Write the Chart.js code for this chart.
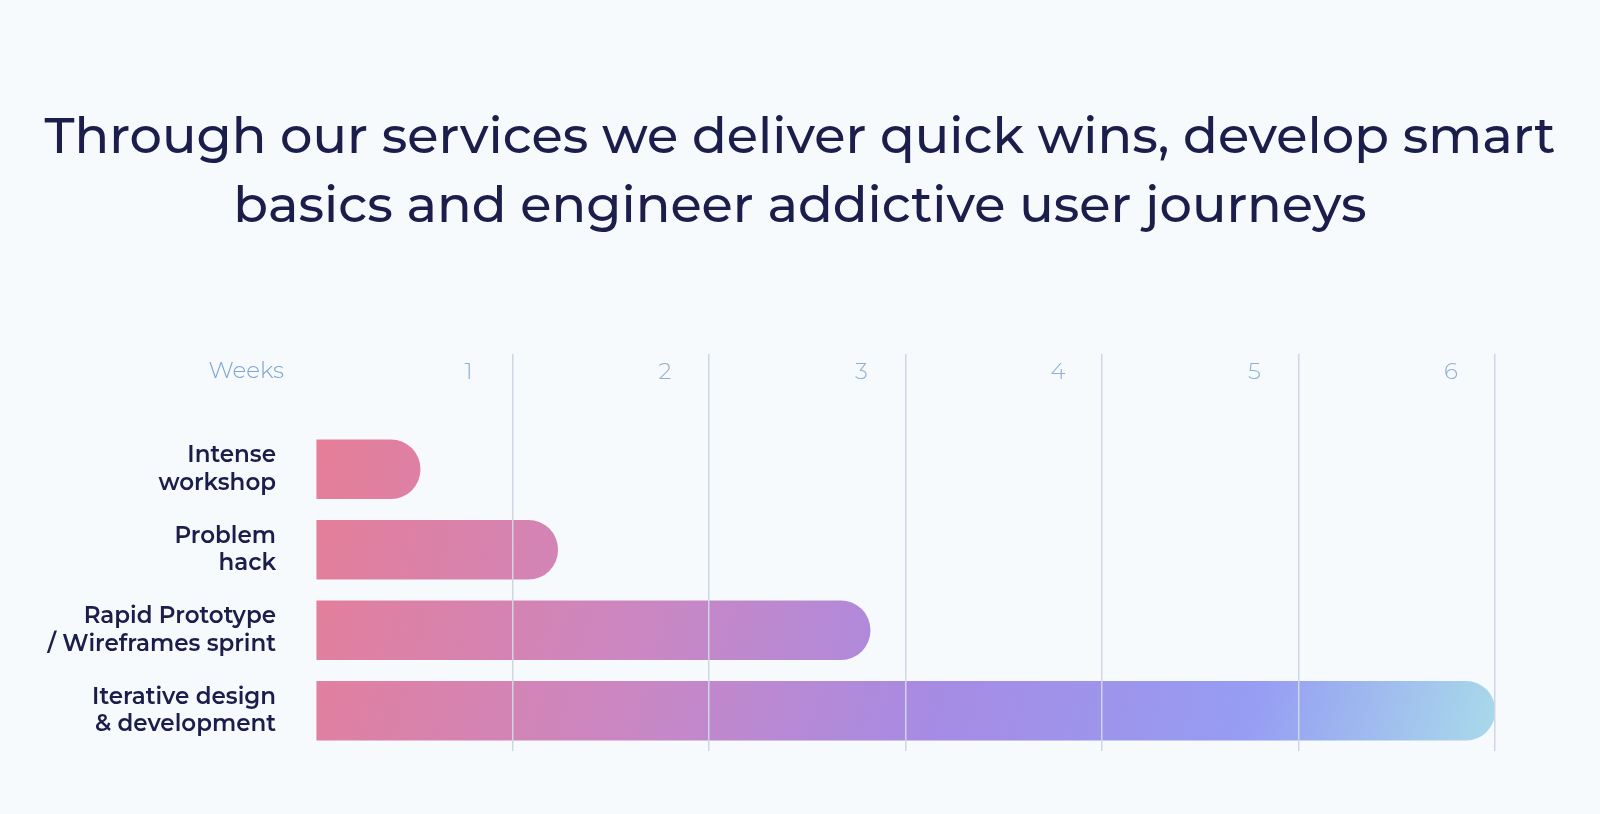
<!DOCTYPE html>
<html>
<head>
<meta charset="utf-8">
<script src="https://cdn.jsdelivr.net/npm/chart.js@4"></script>
<style>
  html, body { margin: 0; padding: 0; background: #f7fafc; }
  #wrap { width: 1600px; height: 814px; }
</style>
</head>
<body>
<div id="wrap"><canvas id="chart"></canvas></div>
<script>
const title = [
  "Through our services we deliver quick wins, develop smart",
  "basics and engineer addictive user journeys"
];
const tasks = [
  ["Intense", "workshop"],
  ["Problem", "hack"],
  ["Rapid Prototype", "/ Wireframes sprint"],
  ["Iterative design", "& development"]
];
const weeks = [0.53, 1.23, 2.82, 6.0];
const axisLabel = "Weeks";

const ctx = document.getElementById("chart").getContext("2d");

const barGradient = (context) => {
  const area = context.chart.chartArea;
  if (!area) return "#e07f9a";
  const g = context.chart.ctx.createLinearGradient(area.left, area.top, area.right, area.bottom);
  g.addColorStop(0, "#e67e97");
  g.addColorStop(0.3, "#cb87c2");
  g.addColorStop(0.55, "#a68be4");
  g.addColorStop(0.8, "#969df3");
  g.addColorStop(1, "#a9dbea");
  return g;
};

const texts = {
  id: "texts",
  afterDraw: (chart) => {
    const c = chart.ctx;
    c.save();
    c.font = "300 23px Montserrat, 'Open Sans', sans-serif";
    c.fillStyle = "#7ba6d4";
    c.textAlign = "right";
    c.textBaseline = "middle";
    c.fillText(axisLabel, chart.chartArea.left - 32, 371);
    c.font = "500 51px Montserrat, 'Open Sans', sans-serif";
    c.fillStyle = "#1b1e4b";
    c.textAlign = "center";
    c.fillText(title[0], 800, 138);
    c.fillText(title[1], 800, 207);
    c.restore();
  }
};

new Chart(ctx, {
  type: "bar",
  data: {
    labels: tasks,
    datasets: [{
      data: weeks,
      backgroundColor: barGradient,
      barThickness: 59,
      borderSkipped: false,
      borderRadius: { topLeft: 0, bottomLeft: 0, topRight: 29.5, bottomRight: 29.5 }
    }]
  },
  plugins: [texts],
  options: {
    indexAxis: "y",
    responsive: true,
    maintainAspectRatio: false,
    animation: false,
    layout: { padding: { left: 0, right: 105, top: 354, bottom: 63 } },
    plugins: {
      legend: { display: false },
      tooltip: { enabled: false }
    },
    scales: {
      x: {
        type: "linear",
        position: "top",
        min: 0,
        max: 6,
        afterFit: (scale) => { scale.height = 75; },
        border: { display: false },
        grid: {
          z: 1,
          drawTicks: true,
          tickLength: 75,
          color: (c) => c.tick && c.tick.value === 0 ? "rgba(0,0,0,0)" : "#cfd5e3",
          lineWidth: 1.5
        },
        ticks: {
          stepSize: 1,
          labelOffset: -44,
          padding: -32,
          color: "#8fb0d6",
          font: { family: "Montserrat, 'Open Sans', sans-serif", size: 23, weight: "300" },
          callback: (v) => v === 0 ? "" : v
        }
      },
      y: {
        border: { display: false },
        grid: { display: false },
        afterFit: (scale) => { scale.width = 316; },
        ticks: {
          padding: 32,
          color: "#1b1e4b",
          font: { family: "Montserrat, 'Open Sans', sans-serif", size: 23, weight: "600", lineHeight: 1.2 }
        }
      }
    }
  }
});
</script>
</body>
</html>
